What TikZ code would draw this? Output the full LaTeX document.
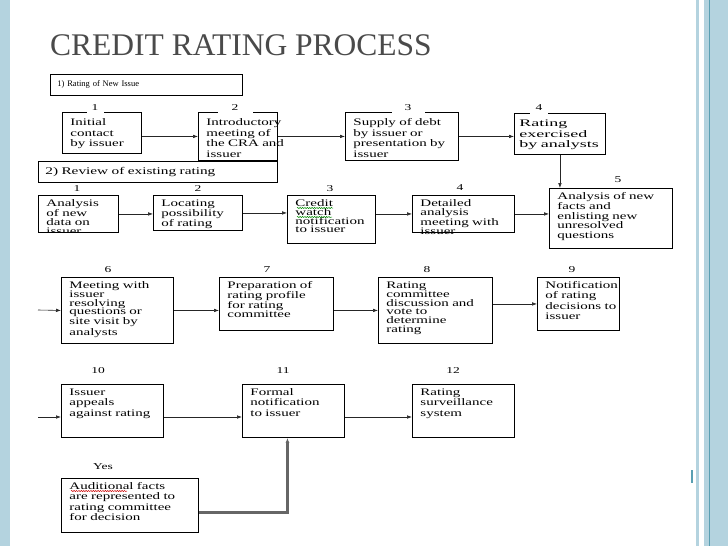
\documentclass[tikz,border=0pt]{standalone}
\usepackage{fontspec}
\setmainfont{Liberation Serif}
\newfontfamily\boxfont[FakeStretch=1.5]{Liberation Serif}
\newfontfamily\widefont[FakeStretch=1.8]{Liberation Serif}
\usetikzlibrary{arrows.meta, decorations.pathmorphing}
\definecolor{bandblue}{HTML}{B4D3DF}
\definecolor{bandteal}{HTML}{5A9FB2}
\definecolor{titlegray}{HTML}{4A4A4A}
\tikzset{
    stepbox/.style = {draw, line width=0.9pt, anchor=north west,
        font=\boxfont\fontsize{10}{10.5}\selectfont,
        inner xsep=8pt, inner ysep=3pt, text height=8pt,
        execute at begin node={\rightskip=0pt plus 1fil minus 80pt\relax}},
    tight/.style = {font=\boxfont\fontsize{10}{8.8}\selectfont},
    toprow/.style = {text height=10.5pt},
    headbox/.style = {draw, line width=0.8pt, anchor=north west, align=left, inner xsep=7pt},
    num/.style = {font=\boxfont\fontsize{9}{9}\selectfont, inner sep=1pt},
    numcut/.style = {num, fill=white, inner ysep=3pt},
    flow/.style = {draw=black!85, line width=0.6pt, -{Latex[length=5pt,width=3.6pt]}},
    feedback/.style = {draw=black!60, line width=2.2pt, -{Latex[length=5pt,width=4pt]}},
    squiggle/.style = {line width=0.5pt, decorate, decoration={snake, amplitude=0.6pt, segment length=2.4pt}},
}

\begin{document}
\begin{tikzpicture}[x=1pt, y=-1pt]
    \useasboundingbox (0,0) rectangle (728,546);
    % slide frame
    \fill[bandblue] (0,0) rectangle (10,546);
    \fill[bandblue] (696,0) rectangle (699,546);
    \fill[bandblue] (704,0) rectangle (728,546);
    \draw[bandteal, line width=1pt] (709.5,0) -- (709.5,546);
    \draw[bandteal, line width=1.2pt] (692,470) -- (692,483);

    \node[anchor=base west, inner sep=0, text=titlegray, font=\fontsize{31.5}{31.5}\selectfont] (title) at (50,55) {CREDIT RATING PROCESS};

    % 1) new issue
    \node[headbox, minimum width=192pt, minimum height=21pt, text width=178pt, font=\fontsize{8.5}{10}\selectfont] (h1) at (50,74) {1) Rating of New Issue};

    \node[stepbox, toprow, text width=63pt, text depth=24.5pt] (b1) at (62,112) {Initial\\contact\\by issuer};
    \node[stepbox, toprow, text width=63pt, text depth=31.5pt] (b2) at (198,112) {Introductory\\meeting of\\the CRA and\\issuer};
    \node[stepbox, toprow, text width=97pt, text depth=31.5pt] (b3) at (345,112) {Supply of debt\\by issuer or\\presentation by\\issuer};
    \node[stepbox, toprow, inner xsep=5pt, font=\widefont\fontsize{10}{10.5}\selectfont, text width=81pt, text depth=24.5pt] (b4) at (514,113) {Rating\\exercised\\by analysts};

    \node[numcut, minimum width=17pt] (n1) at (95,108) {1};
    \node[numcut, minimum width=35pt] (n2) at (235,108) {2};
    \node[numcut, minimum width=33pt] (n3) at (408,108) {3};
    \node[numcut, minimum width=18pt] (n4) at (539,108) {4};

    % 2) review
    \node[headbox, minimum width=239pt, minimum height=21pt, text width=225pt, font=\boxfont\fontsize{10.2}{10.5}\selectfont] (h2) at (38,161) {2) Review of existing rating};

    \begin{scope}
        \clip (37,194) rectangle (119,232.5);
        \node[stepbox, tight, text width=64pt, text depth=23pt] (r1) at (38,195) {Analysis\\of new\\data on\\issuer};
    \end{scope}
    \draw[line width=0.9pt] (r1.south west) rectangle (r1.north east);
    \node[stepbox, tight, text width=73pt, text depth=21pt] (r2) at (153,195) {Locating\\possibility\\of rating};
    \node[stepbox, tight, text width=72pt, text depth=34pt] (r3) at (287,195) {Credit\\watch\\notification\\to issuer};
    \node[stepbox, tight, text width=86pt, text depth=23pt] (r4) at (412,195) {Detailed\\analysis\\meeting with\\issuer};
    \node[stepbox, font=\boxfont\fontsize{10}{9.8}\selectfont, text width=107pt, text depth=46pt] (r5) at (549,188) {Analysis of new\\facts and\\enlisting new\\unresolved\\questions};

    \node[num] (m1) at (77,189) {1};
    \node[num] (m2) at (198,189) {2};
    \node[num] (m3) at (330,189) {3};
    \node[num] (m4) at (460,188) {4};
    \node[num] (m5) at (618,180) {5};

    \draw[squiggle, green!55!black] ([shift={(10,13)}]r3.north west) -- ([shift={(46,13)}]r3.north west);
    \draw[squiggle, green!55!black] ([shift={(10,22)}]r3.north west) -- ([shift={(45,22)}]r3.north west);

    % committee stage
    \node[stepbox, tight, text width=96pt, text depth=52pt] (b6) at (61,277) {Meeting with\\issuer\\resolving\\questions or\\site visit by\\analysts};
    \node[stepbox, tight, text width=98pt, text depth=39pt] (b7) at (219,277) {Preparation of\\rating profile\\for rating\\committee};
    \node[stepbox, tight, text width=98pt, text depth=52pt] (b8) at (378,277) {Rating\\committee\\discussion and\\vote to\\determine\\rating};
    \node[stepbox, text width=66pt, text depth=39pt] (b9) at (537,277) {Notification\\of rating\\decisions to\\issuer};

    \node[num] (m6) at (108,270) {6};
    \node[num] (m7) at (267,270) {7};
    \node[num] (m8) at (427,270) {8};
    \node[num] (m9) at (572,270) {9};

    % appeal
    \node[stepbox, text width=86pt, text depth=39pt] (b10) at (61,384) {Issuer\\appeals\\against rating};
    \node[stepbox, text width=86pt, text depth=39pt] (b11) at (242,384) {Formal\\notification\\to issuer};
    \node[stepbox, text width=86pt, text depth=39pt] (b12) at (412,384) {Rating\\surveillance\\system};

    \node[num] (m10) at (98,371) {10};
    \node[num] (m11) at (283,371) {11};
    \node[num] (m12) at (453,371) {12};

    \node[num] (yes) at (103,467) {Yes};
    \node[stepbox, text width=121pt, text depth=40pt] (aux) at (61,478) {Auditional facts\\are represented to\\rating committee\\for decision};
    \draw[squiggle, red!80!black] ([shift={(10,13)}]aux.north west) -- ([shift={(66,13)}]aux.north west);

    % connectors
    \draw[flow] (b1.east |- b2.west) -- (b2.west);
    \draw[flow] (b2.east) -- (b3.west);
    \draw[flow] (b3.east) -- (b3.east -| b4.west);
    \draw[flow] (b4.south) -- (b4.south |- r5.north);

    \draw[flow] (r1.east) -- (r1.east -| r2.west);
    \draw[flow] (r2.east) -- (r2.east -| r3.west);
    \draw[flow] (r3.east |- r4.west) -- (r4.west);
    \draw[flow] (r4.east) -- (r4.east -| r5.west);

    \coordinate (in6) at (38,310);
    \draw[flow] (in6) -- (b6.west);
    \draw[flow] (b6.east) -- (b6.east -| b7.west);
    \draw[flow] (b7.east |- b8.west) -- (b8.west);
    \draw[flow] (b8.east |- b9.west) -- (b9.west);

    \coordinate (in10) at (38,417);
    \draw[flow] (in10) -- (in10 -| b10.west);
    \draw[flow] (in10 -| b10.east) -- (in10 -| b11.west);
    \draw[flow] (in10 -| b11.east) -- (in10 -| b12.west);
    \draw[feedback] ([yshift=-7pt]aux.east) -| ([xshift=-6pt]b11.south);
\end{tikzpicture}
\end{document}
